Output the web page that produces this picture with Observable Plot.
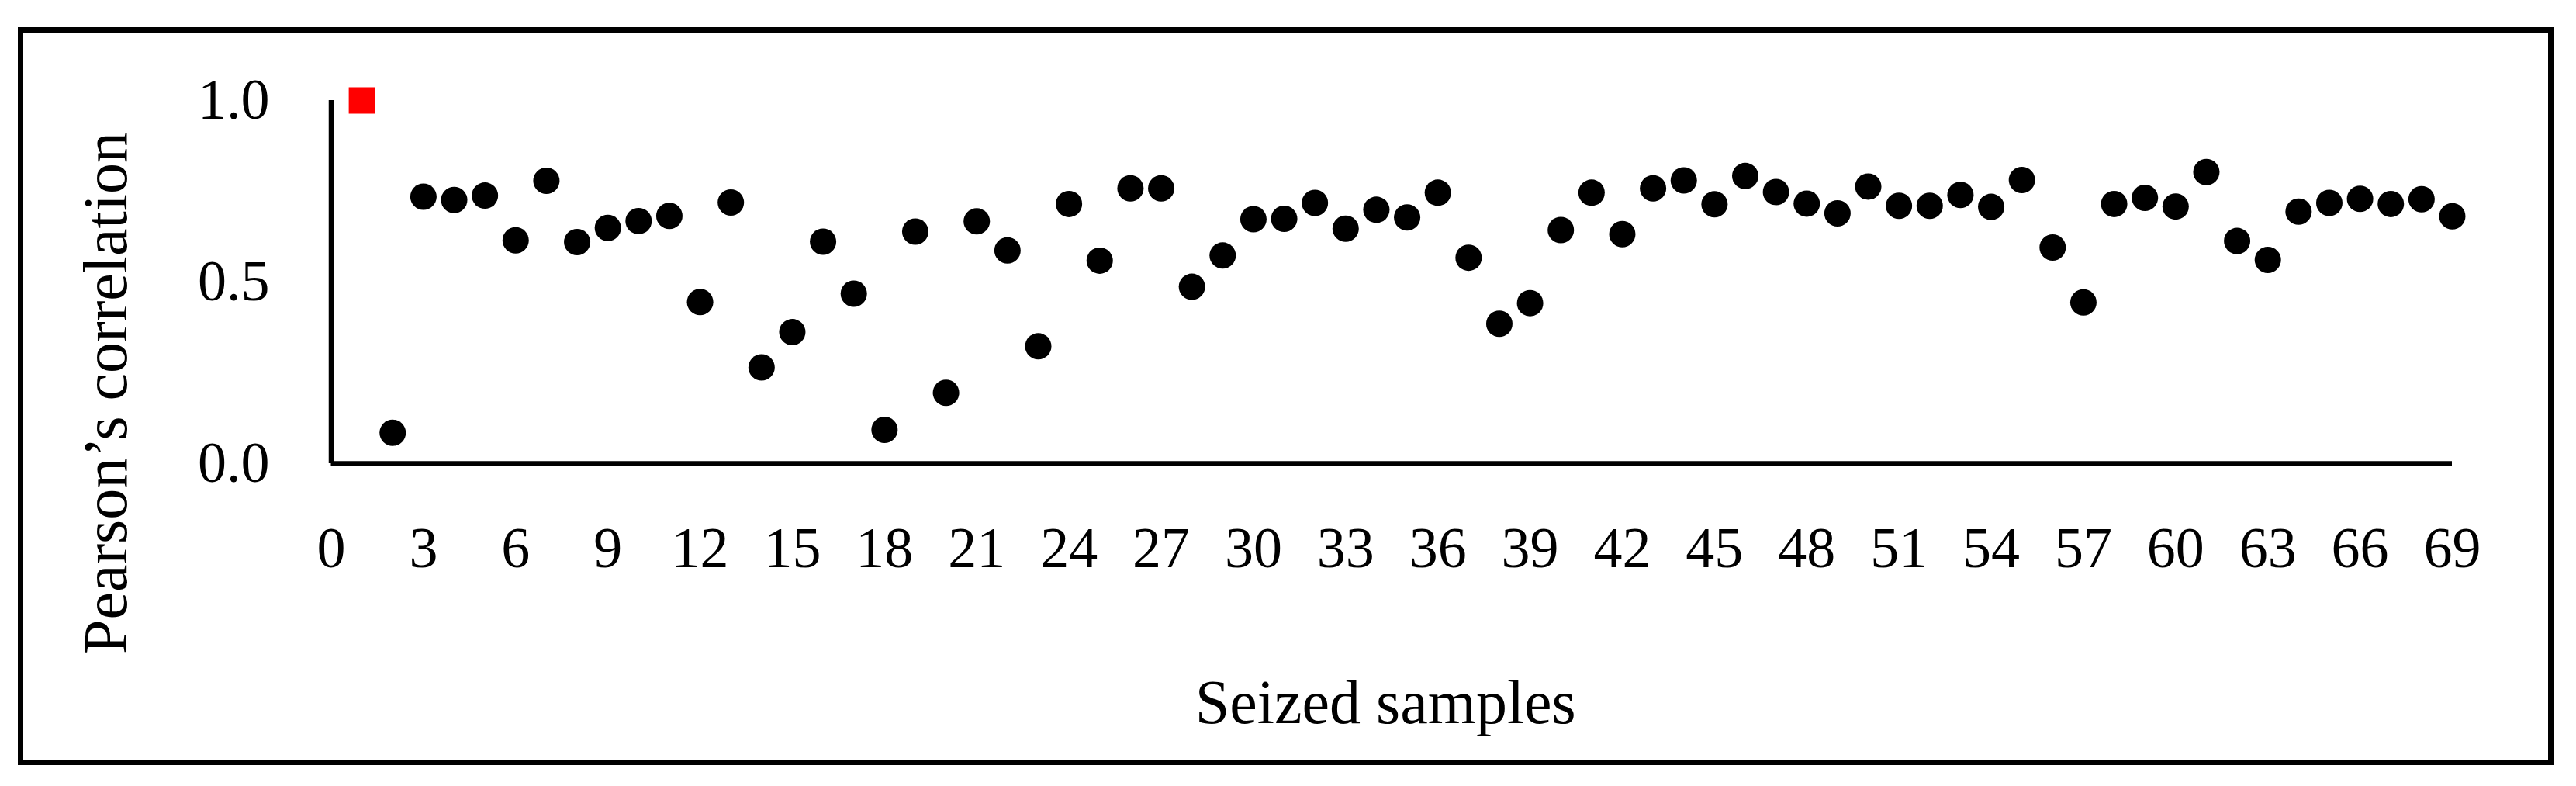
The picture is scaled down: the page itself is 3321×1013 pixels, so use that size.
<!DOCTYPE html>
<html>
<head>
<meta charset="utf-8">
<script src="https://cdn.jsdelivr.net/npm/d3@7"></script>
<script src="https://cdn.jsdelivr.net/npm/@observablehq/plot@0.6"></script>
<style>
  html, body { margin: 0; padding: 0; background: #fff; }
  #wrap { position: relative; width: 3321px; height: 1013px; }
  #border { position: absolute; left: 23px; top: 35px; width: 3269px; height: 951px;
            box-sizing: border-box; border: 7px solid #000; pointer-events: none; }
</style>
</head>
<body>
<div id="wrap"><div id="border"></div></div>
<script>
const samples = [1,2,3,4,5,6,7,8,9,10,11,12,13,14,15,16,17,18,19,20,21,22,23,24,25,26,27,28,29,30,
  31,32,33,34,35,36,37,38,39,40,41,42,43,44,45,46,47,48,49,50,51,52,53,54,55,56,57,58,59,60,
  61,62,63,64,65,66,67,68,69];
const correlation = [1.0,0.085,0.735,0.726,0.738,0.615,0.779,0.610,0.649,0.668,0.682,0.445,0.719,0.265,0.362,
  0.611,0.468,0.093,0.639,0.195,0.667,0.587,0.323,0.715,0.559,0.758,0.758,0.487,0.573,0.673,
  0.674,0.718,0.647,0.699,0.678,0.746,0.567,0.385,0.442,0.643,0.746,0.632,0.758,0.780,0.714,
  0.792,0.748,0.716,0.689,0.763,0.710,0.710,0.740,0.707,0.781,0.595,0.444,0.715,0.732,0.708,
  0.803,0.613,0.561,0.694,0.718,0.729,0.715,0.728,0.681];
const referenceSample = [1];
const xTicks = [0,3,6,9,12,15,18,21,24,27,30,33,36,39,42,45,48,51,54,57,60,63,66,69];
const yTicks = [0, 0.5, 1.0];
const xTitle = "Seized samples";
const yTitle = "Pearson\u2019s correlation";

const data = samples.map((s, i) => ({sample: s, r: correlation[i]}));
const refData = data.filter(d => referenceSample.includes(d.sample));
const otherData = data.filter(d => !referenceSample.includes(d.sample));

const chart = Plot.plot({
  width: 3321,
  height: 1013,
  marginLeft: 426.5,
  marginRight: 160,
  marginTop: 129,
  marginBottom: 416,
  style: {fontFamily: "'Liberation Serif', serif", background: "transparent", color: "#000", overflow: "visible"},
  x: {domain: [0, 69]},
  y: {domain: [0, 1]},
  marks: [
    Plot.ruleY([0], {x1: 0, x2: 69, stroke: "#000", strokeWidth: 6.5}),
    Plot.ruleX([0], {y1: 0, y2: 1, stroke: "#000", strokeWidth: 6.5}),
    Plot.axisX({ticks: xTicks, tickSize: 0, tickPadding: 80.5, fontSize: 74, label: null, tickFormat: d => String(d)}),
    Plot.axisY({ticks: yTicks, tickSize: 0, tickPadding: 79.5, fontSize: 74, label: null, tickFormat: d3.format(".1f")}),
    Plot.dot(otherData, {x: "sample", y: "r", r: 17, fill: "#000", stroke: "none"}),
    Plot.dot(refData, {x: "sample", y: "r", r: 19.2, symbol: "square", fill: "#ff0000", stroke: "none"}),
    Plot.text([xTitle], {frameAnchor: "bottom", dx: -8, dy: 309, textAnchor: "middle", lineAnchor: "middle", fontSize: 80, fill: "#000"}),
    Plot.text([yTitle], {frameAnchor: "left", dx: -290, dy: 143, rotate: -90, textAnchor: "middle", lineAnchor: "middle", fontSize: 80, fill: "#000"})
  ]
});
document.getElementById("wrap").insertBefore(chart, document.getElementById("border"));
</script>
</body>
</html>
